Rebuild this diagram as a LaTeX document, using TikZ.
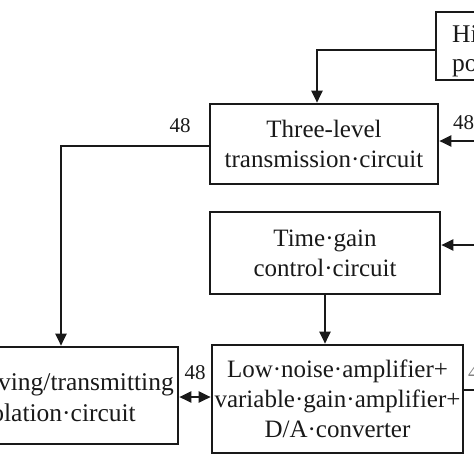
\documentclass[tikz,border=0pt]{standalone}
\usepackage{fontspec}
\setmainfont{Liberation Serif}
\usetikzlibrary{arrows.meta}
\definecolor{ink}{RGB}{25,25,25}
\begin{document}
\begin{tikzpicture}[x=1pt,y=-1pt,
  blk/.style={draw=ink, text=ink, line width=2.6pt, inner sep=0pt, align=center, font=\fontsize{25}{30}\selectfont},
  txt/.style={inner sep=0pt, text=ink, font=\fontsize{25.5}{30}\selectfont},
  lbl/.style={inner sep=0pt, text=ink, font=\fontsize{21}{24}\selectfont},
  wire/.style={draw=ink, line width=2.4pt},
  conn/.style={wire, -{Triangle[length=12pt,width=11pt]}},
  dconn/.style={wire, {Triangle[length=12pt,width=11pt]}-{Triangle[length=12pt,width=11pt]}}]
\clip (0,0) rectangle (474,474);
% boxes
\node[blk, minimum width=164pt, minimum height=68pt] (hv) at (518,46) {};
\node[txt, anchor=base west] (hvt1) at (452,42) {Hi};
\node[txt, anchor=base west] (hvt2) at (452,71) {po};
\node[blk, minimum width=228pt, minimum height=80pt] (tl) at (324,144) {Three-level\\transmission·circuit};
\node[blk, minimum width=230pt, minimum height=82pt] (tg) at (325,253) {Time·gain\\control·circuit};
\node[blk, minimum width=278pt, minimum height=97pt] (rx) at (39,395.5) {};
\node[txt, anchor=east] (rxt1) at (174,385) {ving/transmitting};
\node[txt, anchor=east] (rxt2) at (136,413) {olation·circuit};
\node[blk, minimum width=251pt, minimum height=108pt] (lna) at (337.5,399) {Low·noise·amplifier+\\variable·gain·amplifier+\\D/A·converter};
% labels
\node[lbl] (l1) at (180,126) {48};
\node[lbl, anchor=west] (l2) at (453,123) {48};
\node[lbl] (l3) at (195,373) {48};
\node[lbl, anchor=west, text=gray] (l4) at (468,373) {48};
% free ends
\coordinate (e1) at (480,141);
\coordinate (e2) at (480,245);
\coordinate (e3) at (480,390);
% connectors
\draw[conn] (hv.west |- 0,50) -| (tl.north -| 317,0);
\draw[conn] (tl.west |- 0,146) -| (rx.north -| 61,0);
\draw[conn] (e1) -- (tl.east |- e1);
\draw[conn] (e2) -- (tg.east |- e2);
\draw[conn] (tg.south) -- (lna.north -| tg.south);
\draw[dconn] (rx.east |- 0,397) -- (lna.west |- 0,397);
\draw[wire] (lna.east |- e3) -- (e3);
\end{tikzpicture}
\end{document}
